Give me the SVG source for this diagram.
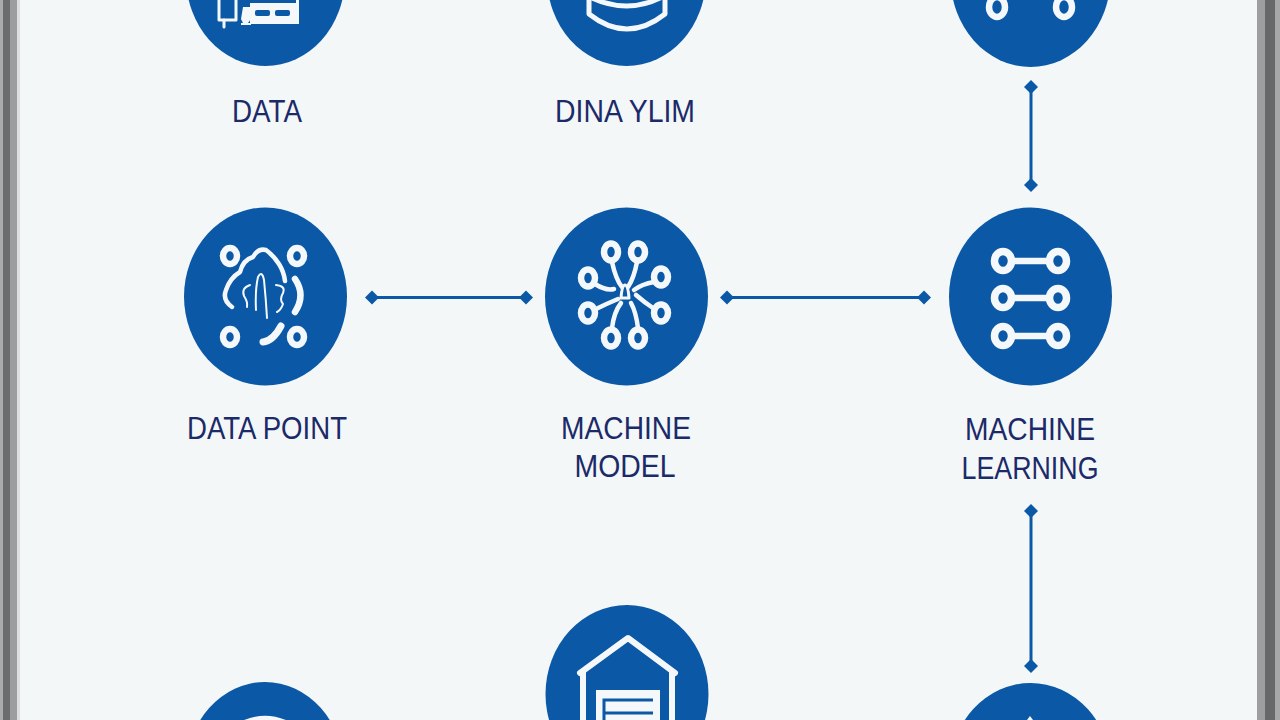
<svg xmlns="http://www.w3.org/2000/svg" width="1280" height="720" viewBox="0 0 1280 720">
<style>
.disc{fill:#0a58a6}
.ic{fill:none;stroke:#f4f8fb;stroke-width:6.500;stroke-linecap:round;stroke-linejoin:round}
.thin{stroke-width:3}
.lab{font-family:"Liberation Sans",Arial,sans-serif;font-size:31px;fill:#1b2a68;text-anchor:middle}
.conn{fill:none;stroke:#0a58a6;stroke-width:3;marker-start:url(#dia);marker-end:url(#dia)}
</style>
<defs>
<marker id="dia" markerUnits="userSpaceOnUse" markerWidth="16" markerHeight="16" refX="8" refY="8" orient="auto"><path d="M1 8L8 1L15 8L8 15Z" fill="#0a58a6"/></marker>
</defs>
<rect width="1280" height="720" fill="#f4f7f8"/>
<g id="frame">
<rect x="0" y="0" width="3" height="720" fill="#a9abac"/>
<rect x="3" y="0" width="7" height="720" fill="#6a6c6e"/>
<rect x="10" y="0" width="7" height="720" fill="#9b9d9f"/>
<rect x="17" y="0" width="3" height="720" fill="#dcdedf"/>
<rect x="1257" y="0" width="8" height="720" fill="#9c9ea0"/>
<rect x="1265" y="0" width="10" height="720" fill="#66686a"/>
<rect x="1275" y="0" width="5" height="720" fill="#a5a7a8"/>
</g>
<g id="connectors">
<path class="conn" d="M372 297.500H526"/>
<path class="conn" d="M727 297.500H924"/>
<path class="conn" d="M1031 87V185"/>
<path class="conn" d="M1031 511V666"/>
</g>
<g id="node-data">
<ellipse class="disc" cx="265.500" cy="-23" rx="79.500" ry="89"/>
<rect x="219" y="-6" width="17" height="26" class="ic thin"/>
<path class="ic thin" d="M224 20V27"/>
<rect x="250" y="-10" width="49" height="34" fill="#f4f8fb"/>
<rect x="250" y="-8" width="46" height="11" fill="#0a58a6"/>
<rect x="255" y="10" width="15" height="6" rx="2" fill="#0a58a6"/>
<rect x="275" y="10" width="15" height="6" rx="2" fill="#0a58a6"/>
<path d="M243 7h8v12l-3 4h3v2h-10v-2h2l-2-4z" fill="#f4f8fb"/>
<text class="lab" x="267" y="122" textLength="70" lengthAdjust="spacingAndGlyphs">DATA</text>
</g>
<g id="node-dina-ylim">
<ellipse class="disc" cx="626.500" cy="-23" rx="79.500" ry="89"/>
<path class="ic" style="stroke-width:5" d="M589 -5V14Q627 44 665 14V-5"/>
<path class="ic" style="stroke-width:5" d="M592 -2Q627 14 660 -2"/>
<text class="lab" x="625" y="122" textLength="140" lengthAdjust="spacingAndGlyphs">DINA YLIM</text>
</g>
<g id="node-top-right">
<ellipse class="disc" cx="1030.500" cy="-23" rx="80" ry="90"/>
<ellipse class="ic" cx="997" cy="7" rx="8" ry="10"/>
<ellipse class="ic" cx="1064" cy="7" rx="8" ry="10"/>
</g>
<g id="node-data-point">
<ellipse class="disc" cx="265.500" cy="296.500" rx="81.500" ry="89"/>
<ellipse class="ic" cx="230" cy="256" rx="7" ry="8"/>
<ellipse class="ic" cx="297" cy="256" rx="7" ry="8"/>
<ellipse class="ic" cx="230" cy="337" rx="7" ry="8"/>
<ellipse class="ic" cx="297" cy="337" rx="7" ry="8"/>
<path class="ic" style="stroke-width:4.500" d="M232 307Q222 300 226 290Q230 278 240 272Q243 260 253 257Q258 248 266 250Q274 256 279 264Q284 272 285 281"/>
<path class="ic" d="M295 279Q306 295 295 312"/>
<path class="ic" d="M263 342Q273 341 281 326" style="stroke-width:7"/>
<path class="ic" style="stroke-width:2" d="M256 310Q255 290 258 277Q262 270 264 280Q266 300 267 318"/>
<path class="ic" style="stroke-width:2" d="M250 285Q241 288 244 296Q248 302 247 307"/>
<path class="ic" style="stroke-width:2" d="M276 285Q286 286 283 293Q279 300 283 304Q281 310 277 312"/>
<text class="lab" x="267" y="439" textLength="160" lengthAdjust="spacingAndGlyphs">DATA POINT</text>
</g>
<g id="node-machine-model">
<ellipse class="disc" cx="626.500" cy="296.500" rx="81.500" ry="89"/>
<g class="ic" style="stroke-width:4.500">
<path d="M612 262Q616 280 622 287M637 262Q634 278 628 287M595 284Q606 291 614 289M654 282Q642 284 634 290M596 309Q606 304 618 299M653 308Q644 302 636 295M612 328Q614 312 621 303M638 328Q636 312 631 303"/>
<path style="stroke-width:3" d="M621 298Q622 285 625 285Q628 285 629 298Z"/>
</g>
<g class="ic">
<ellipse cx="611" cy="252" rx="7" ry="8.500"/>
<ellipse cx="638" cy="252" rx="7" ry="8.500"/>
<ellipse cx="588" cy="278" rx="7" ry="8.500"/>
<ellipse cx="661" cy="277" rx="7" ry="8.500"/>
<ellipse cx="588" cy="313" rx="7" ry="8.500"/>
<ellipse cx="661" cy="313" rx="7" ry="8.500"/>
<ellipse cx="611" cy="338" rx="7" ry="8.500"/>
<ellipse cx="638" cy="338" rx="7" ry="8.500"/>
</g>
<text class="lab" x="626" y="439" textLength="130" lengthAdjust="spacingAndGlyphs">MACHINE</text>
<text class="lab" x="625" y="477" textLength="101" lengthAdjust="spacingAndGlyphs">MODEL</text>
</g>
<g id="node-machine-learning">
<ellipse class="disc" cx="1030.500" cy="296.500" rx="81.500" ry="89"/>
<g class="ic" style="stroke-width:7.500">
<path d="M1013 261H1048M1013 298H1048M1013 336H1048" style="stroke-width:6.500"/>
<ellipse cx="1003" cy="261" rx="8.500" ry="9.500"/>
<ellipse cx="1058" cy="261" rx="8.500" ry="9.500"/>
<ellipse cx="1003" cy="298" rx="8.500" ry="9.500"/>
<ellipse cx="1058" cy="298" rx="8.500" ry="9.500"/>
<ellipse cx="1003" cy="336" rx="8.500" ry="9.500"/>
<ellipse cx="1058" cy="336" rx="8.500" ry="9.500"/>
</g>
<text class="lab" x="1030" y="440" textLength="130" lengthAdjust="spacingAndGlyphs">MACHINE</text>
<text class="lab" x="1030" y="479" textLength="137" lengthAdjust="spacingAndGlyphs">LEARNING</text>
</g>
<g id="node-house">
<ellipse class="disc" cx="627" cy="694" rx="81.500" ry="89"/>
<path class="ic" style="stroke-width:6" d="M580 673L628 638L675 673M583 673V730M672 673V730"/>
<rect x="596" y="690" width="64" height="40" fill="#f4f8fb"/>
<path d="M604 730V700H653M604 713H653" fill="none" stroke="#0a58a6" stroke-width="3"/>
</g>
<g id="node-bottom-left">
<ellipse class="disc" cx="265" cy="771" rx="79" ry="89"/>
<path class="ic" d="M243 724Q265 714 287 724"/>
</g>
<g id="node-bottom-right">
<ellipse class="disc" cx="1030.500" cy="772" rx="81" ry="89"/>
<path d="M1024 724L1030 716L1036 724Z" fill="#f4f8fb"/>
</g>
</svg>
